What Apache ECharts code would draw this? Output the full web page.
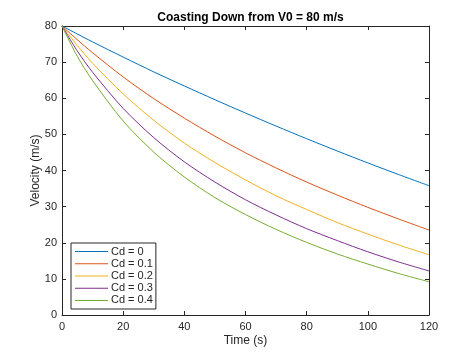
<!DOCTYPE html>
<html>
<head>
<meta charset="utf-8">
<script src="https://cdn.jsdelivr.net/npm/echarts@6/dist/echarts.min.js"></script>
<style>
html,body{margin:0;padding:0;background:#fff;}
#chart{width:474px;height:355px;}
</style>
</head>
<body>
<div id="chart"></div>
<script>
// Data
var timeS = [0, 5, 10, 20, 30, 40, 50, 60, 70, 80, 90, 100, 110, 120];
var cd0   = [80, 77.8, 75.6, 71.4, 67.3, 63.4, 59.6, 55.9, 52.3, 48.8, 45.4, 42.1, 38.9, 35.8];
var cd01  = [80, 76.2, 72.6, 65.9, 59.9, 54.5, 49.5, 44.9, 40.7, 36.8, 33.2, 29.8, 26.6, 23.5];
var cd02  = [80, 74.6, 69.7, 61.2, 53.9, 47.6, 42.2, 37.4, 33.0, 29.2, 25.6, 22.4, 19.4, 16.7];
var cd03  = [80, 73.1, 67.2, 57.2, 49.1, 42.4, 36.8, 31.9, 27.7, 23.9, 20.6, 17.5, 14.7, 12.2];
var cd04  = [80, 71.6, 64.9, 53.7, 45.1, 38.2, 32.5, 27.8, 23.7, 20.1, 16.9, 14.1, 11.5, 9.2];
var seriesNames = ['Cd = 0', 'Cd = 0.1', 'Cd = 0.2', 'Cd = 0.3', 'Cd = 0.4'];
var xTicks = [0, 20, 40, 60, 80, 100, 120];
var yTicks = [0, 10, 20, 30, 40, 50, 60, 70, 80];

var colors = ['#0072BD', '#D95319', '#EDB120', '#7E2F8E', '#77AC30'];
var allData = [cd0, cd01, cd02, cd03, cd04];
var font = 'Liberation Sans, Arial, Helvetica, sans-serif';
var axisCol = '#262626';

function pairs(vals) {
  return timeS.map(function (t, i) { return [t, vals[i]]; });
}

var series = allData.map(function (vals, i) {
  return {
    name: seriesNames[i],
    type: 'line',
    data: pairs(vals),
    smooth: 0.3,
    symbol: 'none',
    lineStyle: { width: 1, color: colors[i] },
    itemStyle: { color: colors[i] },
    xAxisIndex: 0,
    yAxisIndex: 0,
    animation: false
  };
});

function tick() { return { show: true, inside: true, length: 4, lineStyle: { color: axisCol, width: 1 } }; }
function aline() { return { show: true, onZero: false, lineStyle: { color: axisCol, width: 1 } }; }

var option = {
  backgroundColor: '#ffffff',
  animation: false,
  color: colors,
  title: {
    text: 'Coasting Down from V0 = 80 m/s',
    left: 245.5,
    textAlign: 'center',
    top: 7,
    textStyle: { fontFamily: font, fontSize: 12, fontWeight: 'bold', color: '#000' }
  },
  grid: { left: 62, right: 45, top: 26, bottom: 40, containLabel: false },
  legend: {
    orient: 'vertical',
    left: 71,
    top: 243,
    data: seriesNames,
    icon: 'rect',
    itemWidth: 33,
    itemHeight: 1,
    itemGap: 1,
    padding: [3, 3, 3, 4],
    backgroundColor: '#fff',
    borderColor: axisCol,
    borderWidth: 1,
    borderRadius: 0,
    textStyle: { fontFamily: font, fontSize: 11, color: axisCol, lineHeight: 11.2, padding: [0, 0, 0, -2] }
  },
  xAxis: [{
    type: 'value', min: 0, max: 120, interval: 20,
    position: 'bottom',
    name: 'Time (s)', nameLocation: 'middle', nameGap: 20, nameMoveOverlap: false,
    nameTextStyle: { fontFamily: font, fontSize: 12, color: axisCol },
    axisLine: aline(), axisTick: tick(),
    axisLabel: { fontFamily: font, fontSize: 11, color: axisCol, margin: 6 },
    splitLine: { show: false }
  }, {
    type: 'value', min: 0, max: 120, interval: 20,
    position: 'top',
    axisLine: aline(), axisTick: tick(),
    axisLabel: { show: false }, splitLine: { show: false }
  }],
  yAxis: [{
    type: 'value', min: 0, max: 80, interval: 10,
    position: 'left',
    name: 'Velocity (m/s)', nameLocation: 'middle', nameGap: 20, nameMoveOverlap: false,
    nameTextStyle: { fontFamily: font, fontSize: 12, color: axisCol },
    axisLine: aline(), axisTick: tick(),
    axisLabel: { fontFamily: font, fontSize: 11, color: axisCol, margin: 5 },
    splitLine: { show: false }
  }, {
    type: 'value', min: 0, max: 80, interval: 10,
    position: 'right',
    axisLine: aline(), axisTick: tick(),
    axisLabel: { show: false }, splitLine: { show: false }
  }],
  series: series
};

var chart = echarts.init(document.getElementById('chart'), null, { renderer: 'canvas' });
chart.setOption(option);
</script>
</body>
</html>
